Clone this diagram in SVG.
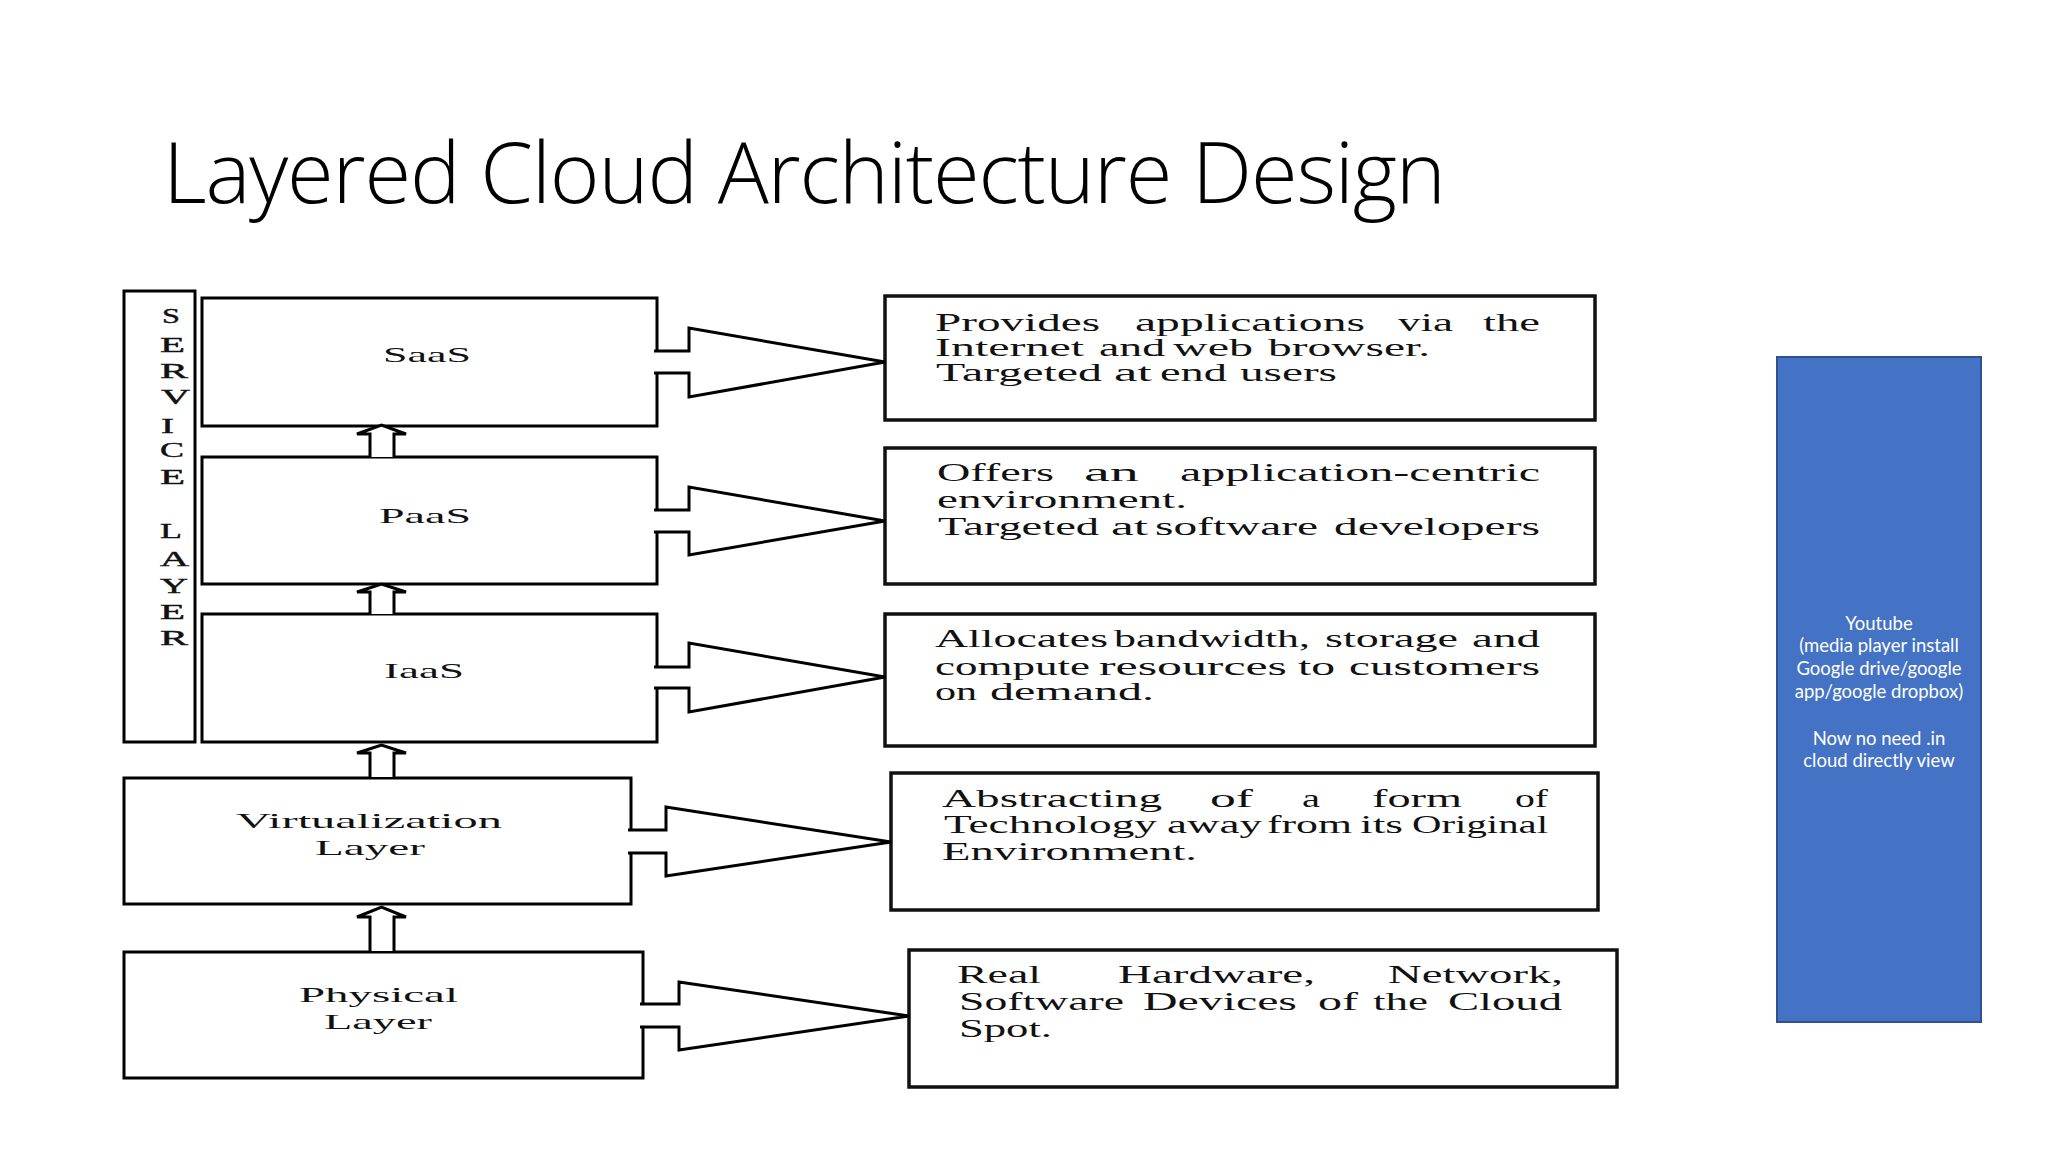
<svg xmlns="http://www.w3.org/2000/svg" width="2048" height="1152" viewBox="0 0 2048 1152">
<style>
.bg{fill:#fff}
.box{fill:#fff;stroke:#000;stroke-width:3}
.dbox{fill:#fff;stroke:#111;stroke-width:3.5}
.arr{fill:#fff;stroke:#000;stroke-width:3;stroke-linejoin:miter}
.up{fill:#fff;stroke:#000;stroke-width:3}
.title{font-family:"Open Sans","Lato","Liberation Sans",sans-serif;font-weight:300;font-size:85px;fill:#000}
.t{font-family:"Liberation Serif","DejaVu Serif",serif;fill:#111}
.lb{font-size:21px}
.d{font-size:25px}
.sv{font-size:21px;stroke:#111;stroke-width:0.4}
.blue{fill:#4472C4;stroke:#2F528F;stroke-width:2}
.bt{font-family:"Lato","Open Sans","Liberation Sans",sans-serif;font-size:18.5px;fill:#fff;text-anchor:middle}
</style>
<rect class="bg" x="0" y="0" width="2048" height="1152"/>
<text class="title" x="163" y="203" textLength="1283" lengthAdjust="spacing">Layered Cloud Architecture Design</text>

<g id="service-layer">
<rect class="box" x="124" y="291" width="71" height="451"/>
<g class="t sv">
<text x="162" y="323" textLength="18" lengthAdjust="spacingAndGlyphs">S</text>
<text x="160" y="352" textLength="25" lengthAdjust="spacingAndGlyphs">E</text>
<text x="160" y="378" textLength="28" lengthAdjust="spacingAndGlyphs">R</text>
<text x="161" y="404" textLength="29" lengthAdjust="spacingAndGlyphs">V</text>
<text x="161" y="433" textLength="13" lengthAdjust="spacingAndGlyphs">I</text>
<text x="160" y="457" textLength="24" lengthAdjust="spacingAndGlyphs">C</text>
<text x="160" y="484" textLength="25" lengthAdjust="spacingAndGlyphs">E</text>
<text x="160" y="538" textLength="22" lengthAdjust="spacingAndGlyphs">L</text>
<text x="160" y="566" textLength="29" lengthAdjust="spacingAndGlyphs">A</text>
<text x="160" y="593" textLength="28" lengthAdjust="spacingAndGlyphs">Y</text>
<text x="160" y="619" textLength="25" lengthAdjust="spacingAndGlyphs">E</text>
<text x="160" y="645" textLength="28" lengthAdjust="spacingAndGlyphs">R</text>
</g>
</g>

<g id="saas">
<rect class="box" x="202" y="298" width="455" height="128"/>
<text class="t lb" x="383" y="362" textLength="88" lengthAdjust="spacingAndGlyphs">SaaS</text>
</g>
<g id="paas">
<rect class="box" x="202" y="457" width="455" height="127"/>
<text class="t lb" x="379" y="523" textLength="92" lengthAdjust="spacingAndGlyphs">PaaS</text>
</g>
<g id="iaas">
<rect class="box" x="202" y="614" width="455" height="128"/>
<text class="t lb" x="384" y="678" textLength="80" lengthAdjust="spacingAndGlyphs">IaaS</text>
</g>
<g id="virtualization-layer">
<rect class="box" x="124" y="778" width="507" height="126"/>
<text class="t lb" x="236" y="828" textLength="266" lengthAdjust="spacingAndGlyphs">Virtualization</text>
<text class="t lb" x="315" y="855" textLength="110" lengthAdjust="spacingAndGlyphs">Layer</text>
</g>
<g id="physical-layer">
<rect class="box" x="124" y="952" width="519" height="126"/>
<text class="t lb" x="299" y="1002" textLength="159" lengthAdjust="spacingAndGlyphs">Physical</text>
<text class="t lb" x="324" y="1029" textLength="108" lengthAdjust="spacingAndGlyphs">Layer</text>
</g>

<g id="desc-saas">
<rect class="dbox" x="885" y="296" width="710" height="124"/>
<g class="t d">
<text x="935" y="331" textLength="165" lengthAdjust="spacingAndGlyphs">Provides</text>
<text x="1135" y="331" textLength="230" lengthAdjust="spacingAndGlyphs">applications</text>
<text x="1398" y="331" textLength="55" lengthAdjust="spacingAndGlyphs">via</text>
<text x="1483" y="331" textLength="57" lengthAdjust="spacingAndGlyphs">the</text>
<text x="935" y="356" textLength="149" lengthAdjust="spacingAndGlyphs">Internet</text>
<text x="1099" y="356" textLength="66" lengthAdjust="spacingAndGlyphs">and</text>
<text x="1173" y="356" textLength="80" lengthAdjust="spacingAndGlyphs">web</text>
<text x="1268" y="356" textLength="162" lengthAdjust="spacingAndGlyphs">browser.</text>
<text x="936" y="381" textLength="166" lengthAdjust="spacingAndGlyphs">Targeted</text>
<text x="1114" y="381" textLength="38" lengthAdjust="spacingAndGlyphs">at</text>
<text x="1160" y="381" textLength="67" lengthAdjust="spacingAndGlyphs">end</text>
<text x="1240" y="381" textLength="97" lengthAdjust="spacingAndGlyphs">users</text>
</g>
</g>
<g id="desc-paas">
<rect class="dbox" x="885" y="448" width="710" height="136"/>
<g class="t d">
<text x="937" y="481" textLength="117" lengthAdjust="spacingAndGlyphs">Offers</text>
<text x="1084" y="481" textLength="55" lengthAdjust="spacingAndGlyphs">an</text>
<text x="1180" y="481" textLength="360" lengthAdjust="spacingAndGlyphs">application-centric</text>
<text x="937" y="508" textLength="250" lengthAdjust="spacingAndGlyphs">environment.</text>
<text x="938" y="535" textLength="161" lengthAdjust="spacingAndGlyphs">Targeted</text>
<text x="1111" y="535" textLength="37" lengthAdjust="spacingAndGlyphs">at</text>
<text x="1155" y="535" textLength="163" lengthAdjust="spacingAndGlyphs">software</text>
<text x="1334" y="535" textLength="206" lengthAdjust="spacingAndGlyphs">developers</text>
</g>
</g>
<g id="desc-iaas">
<rect class="dbox" x="885" y="614" width="710" height="132"/>
<g class="t d">
<text x="935" y="647" textLength="173" lengthAdjust="spacingAndGlyphs">Allocates</text>
<text x="1114" y="647" textLength="196" lengthAdjust="spacingAndGlyphs">bandwidth,</text>
<text x="1325" y="647" textLength="133" lengthAdjust="spacingAndGlyphs">storage</text>
<text x="1472" y="647" textLength="68" lengthAdjust="spacingAndGlyphs">and</text>
<text x="935" y="675" textLength="155" lengthAdjust="spacingAndGlyphs">compute</text>
<text x="1099" y="675" textLength="188" lengthAdjust="spacingAndGlyphs">resources</text>
<text x="1298" y="675" textLength="37" lengthAdjust="spacingAndGlyphs">to</text>
<text x="1349" y="675" textLength="191" lengthAdjust="spacingAndGlyphs">customers</text>
<text x="935" y="700" textLength="42" lengthAdjust="spacingAndGlyphs">on</text>
<text x="990" y="700" textLength="164" lengthAdjust="spacingAndGlyphs">demand.</text>
</g>
</g>
<g id="desc-virtualization">
<rect class="dbox" x="891" y="773" width="707" height="137"/>
<g class="t d">
<text x="942" y="807" textLength="220" lengthAdjust="spacingAndGlyphs">Abstracting</text>
<text x="1210" y="807" textLength="43" lengthAdjust="spacingAndGlyphs">of</text>
<text x="1302" y="807" textLength="18" lengthAdjust="spacingAndGlyphs">a</text>
<text x="1372" y="807" textLength="90" lengthAdjust="spacingAndGlyphs">form</text>
<text x="1515" y="807" textLength="33" lengthAdjust="spacingAndGlyphs">of</text>
<text x="944" y="833" textLength="213" lengthAdjust="spacingAndGlyphs">Technology</text>
<text x="1167" y="833" textLength="95" lengthAdjust="spacingAndGlyphs">away</text>
<text x="1267" y="833" textLength="85" lengthAdjust="spacingAndGlyphs">from</text>
<text x="1360" y="833" textLength="43" lengthAdjust="spacingAndGlyphs">its</text>
<text x="1412" y="833" textLength="136" lengthAdjust="spacingAndGlyphs">Original</text>
<text x="942" y="860" textLength="255" lengthAdjust="spacingAndGlyphs">Environment.</text>
</g>
</g>
<g id="desc-physical">
<rect class="dbox" x="909" y="950" width="708" height="137"/>
<g class="t d">
<text x="957" y="983" textLength="84" lengthAdjust="spacingAndGlyphs">Real</text>
<text x="1118" y="983" textLength="197" lengthAdjust="spacingAndGlyphs">Hardware,</text>
<text x="1388" y="983" textLength="175" lengthAdjust="spacingAndGlyphs">Network,</text>
<text x="959" y="1010" textLength="165" lengthAdjust="spacingAndGlyphs">Software</text>
<text x="1143" y="1010" textLength="154" lengthAdjust="spacingAndGlyphs">Devices</text>
<text x="1318" y="1010" textLength="40" lengthAdjust="spacingAndGlyphs">of</text>
<text x="1373" y="1010" textLength="55" lengthAdjust="spacingAndGlyphs">the</text>
<text x="1448" y="1010" textLength="114" lengthAdjust="spacingAndGlyphs">Cloud</text>
<text x="959" y="1037" textLength="93" lengthAdjust="spacingAndGlyphs">Spot.</text>
</g>
</g>

<g id="connectors">
<path class="arr" d="M654,351 H689 V328 L885,362 L689,397 V373 H654"/>
<path class="arr" d="M654,510 H689 V487 L885,521 L689,555 V532 H654"/>
<path class="arr" d="M654,667 H689 V643 L885,677 L689,712 V688 H654"/>
<path class="arr" d="M628,830 H666 V807 L891,842 L666,876 V853 H628"/>
<path class="arr" d="M640,1004 H679 V982 L909,1016 L679,1050 V1027 H640"/>
<path class="up" d="M370,457 V434 H357 L381.5,425 L406,434 H394 V457"/>
<path class="up" d="M370,614 V592 H357 L381.5,584 L406,592 H394 V614"/>
<path class="up" d="M370,777 V753 H357 L381.5,745 L406,753 H394 V777"/>
<path class="up" d="M370,951 V917 H357 L381.5,907 L406,917 H394 V951"/>
</g>

<g id="note">
<rect class="blue" x="1777" y="357" width="204" height="665"/>
<text class="bt" x="1879" y="630">Youtube</text>
<text class="bt" x="1879" y="652">(media player install</text>
<text class="bt" x="1879" y="675">Google drive/google</text>
<text class="bt" x="1879" y="698">app/google dropbox)</text>
<text class="bt" x="1879" y="745">Now no need .in</text>
<text class="bt" x="1879" y="767">cloud directly view</text>
</g>
</svg>
